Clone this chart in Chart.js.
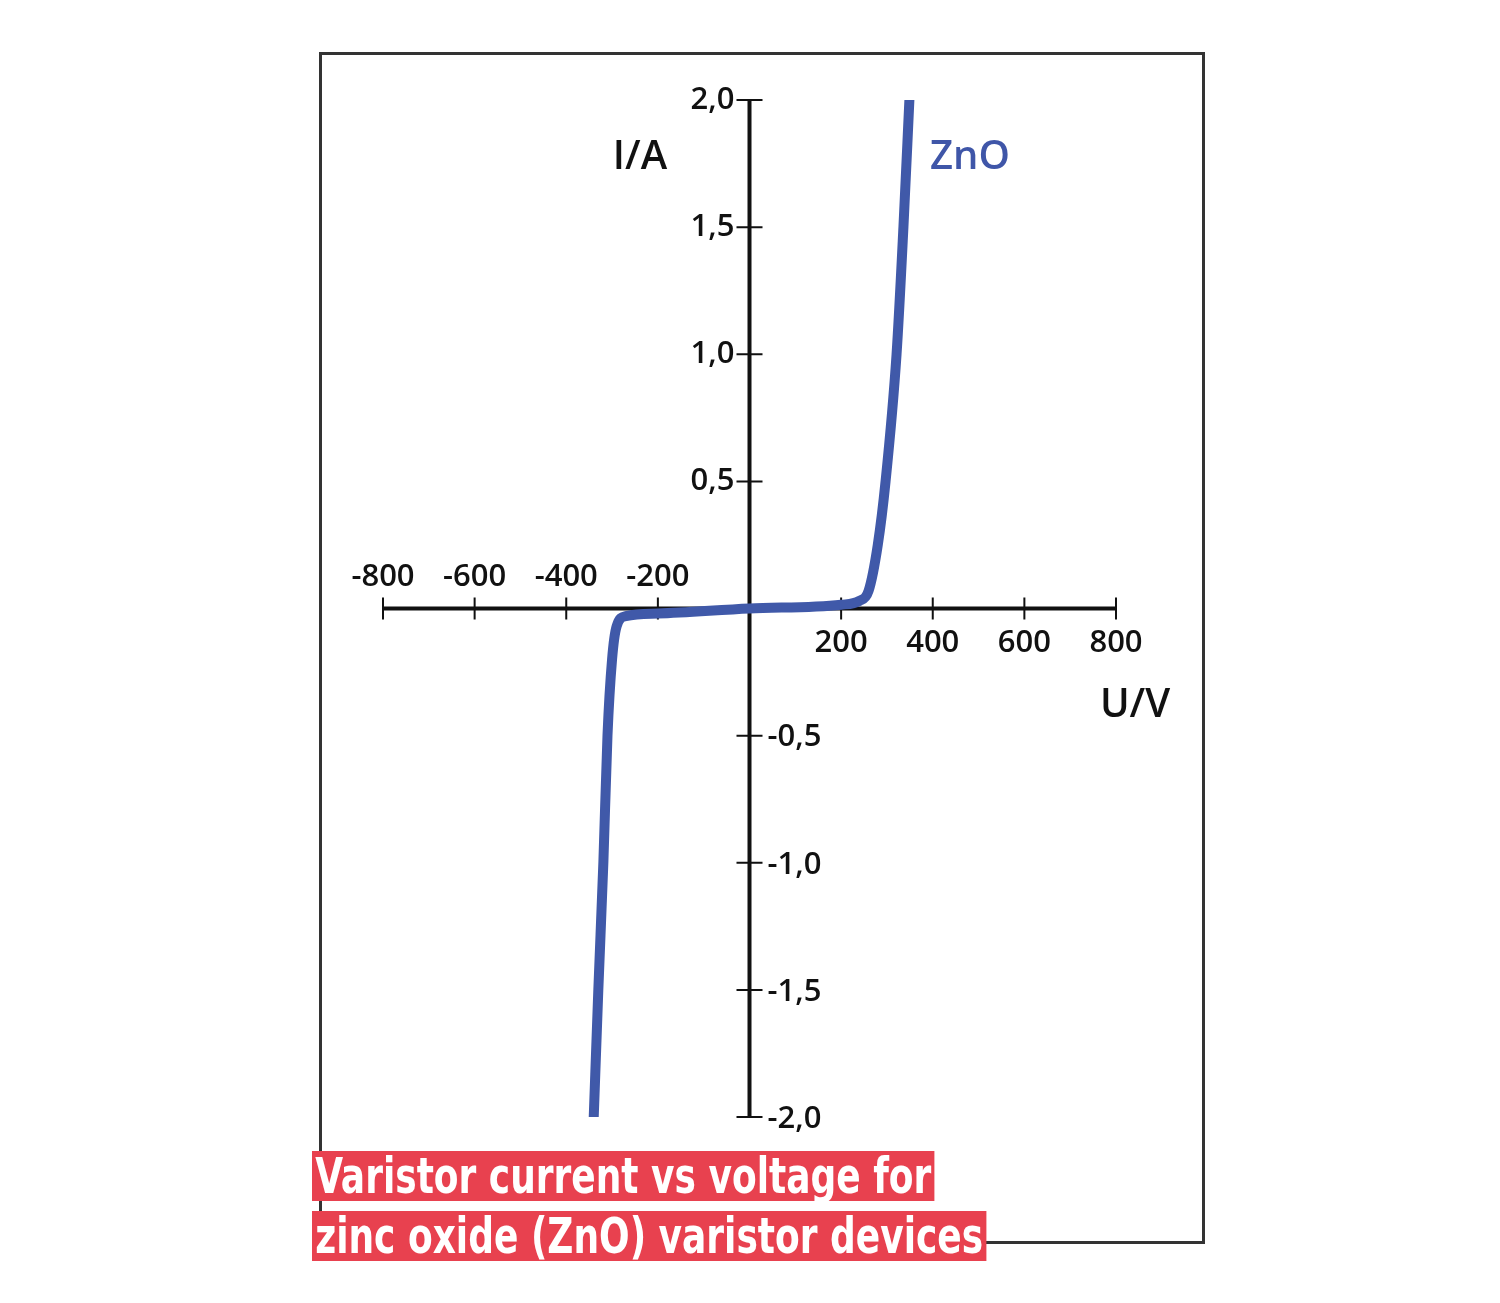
<!DOCTYPE html>
<html>
<head>
<meta charset="utf-8">
<script src="https://cdn.jsdelivr.net/npm/chart.js@4"></script>
<style>
  body { margin: 0; background: #fff; width: 1500px; height: 1303px; position: relative; overflow: hidden; }
  #frame { position: absolute; left: 319px; top: 52px; width: 880px; height: 1186px; border: 3px solid #333; }
  #c { position: absolute; left: 0; top: 0; }
  .cap { position: absolute; left: 312px; background: #e8414f; color: #fff; font-weight: bold;
         font-family: "Liberation Sans Narrow", "DejaVu Sans Condensed", sans-serif; font-size: 50px;
         line-height: 50px; padding: 0 4px; transform: scaleX(0.80); transform-origin: left; }
</style>
</head>
<body>
<div id="frame"></div>
<canvas id="c" width="1500" height="1303"></canvas>
<div class="cap" style="top:1151px">Varistor current vs voltage for</div>
<div class="cap" style="top:1211px">zinc oxide (ZnO) varistor devices</div>
<script>
const voltage = [-340, -330, -319, -310, -300, -290, -270, -200, 0, 200, 240, 260, 280, 297, 321, 336, 349];
const current = [-2.0, -1.5, -1.0, -0.5, -0.2, -0.07, -0.03, -0.02, 0, 0.015, 0.03, 0.07, 0.25, 0.5, 1.0, 1.5, 2.0];
const xTicks = [-800, -600, -400, -200, 200, 400, 600, 800];
const yTicks = [2.0, 1.5, 1.0, 0.5, -0.5, -1.0, -1.5, -2.0];

const fmtY = v => v.toFixed(1).replace('.', ',');

const axesPlugin = {
    id: 'axes',
    beforeDatasetsDraw(chart) {
        const ctx = chart.ctx;
        const xs = chart.scales.x, ys = chart.scales.y;
        const x0 = xs.getPixelForValue(0), y0 = ys.getPixelForValue(0);
        ctx.save();
        ctx.strokeStyle = '#111';
        ctx.fillStyle = '#111';
        ctx.lineWidth = 4;
        ctx.beginPath();
        ctx.moveTo(xs.getPixelForValue(-800), y0); ctx.lineTo(xs.getPixelForValue(800), y0);
        ctx.moveTo(x0, ys.getPixelForValue(2)); ctx.lineTo(x0, ys.getPixelForValue(-2));
        ctx.stroke();
        ctx.beginPath();
        ctx.lineWidth = 2;
        xTicks.forEach(v => {
            const px = xs.getPixelForValue(v);
            ctx.moveTo(px, y0 - 11); ctx.lineTo(px, y0 + 11);
        });
        yTicks.forEach(v => {
            const py = ys.getPixelForValue(v);
            ctx.moveTo(x0 - 13, py); ctx.lineTo(x0 + 13, py);
        });
        ctx.stroke();

        ctx.font = '600 31px "Open Sans", sans-serif';
        ctx.textBaseline = 'middle';
        ctx.textAlign = 'center';
        xTicks.forEach(v => {
            const px = xs.getPixelForValue(v);
            ctx.fillText(String(v), px, v < 0 ? y0 - 31 : y0 + 35);
        });
        yTicks.forEach(v => {
            const py = ys.getPixelForValue(v);
            if (v > 0) { ctx.textAlign = 'right'; ctx.fillText(fmtY(v), x0 - 15, py); }
            else { ctx.textAlign = 'left'; ctx.fillText(fmtY(v), x0 + 18, py + 2); }
        });
        ctx.font = '600 40px "Open Sans", sans-serif';
        ctx.textAlign = 'center';
        ctx.fillText('I/A', 640, 158);
        ctx.fillText('U/V', 1135, 706);
        ctx.fillStyle = '#3f56a8';
        ctx.fillText('ZnO', 970, 158);
        ctx.restore();
    }
};

new Chart(document.getElementById('c'), {
    type: 'scatter',
    data: {
        datasets: [{
            data: voltage.map((u, i) => ({ x: u, y: current[i] })),
            showLine: true,
            borderColor: '#4059a9',
            borderWidth: 10,
            borderCapStyle: 'round',
            cubicInterpolationMode: 'monotone',
            pointRadius: 0
        }]
    },
    options: {
        responsive: false,
        animation: false,
        devicePixelRatio: 1,
        layout: { padding: { left: 383, right: 384, top: 100, bottom: 186 } },
        plugins: { legend: { display: false }, tooltip: { enabled: false } },
        scales: {
            x: { type: 'linear', min: -800, max: 800, display: false },
            y: { type: 'linear', min: -2, max: 2, display: false }
        }
    },
    plugins: [axesPlugin]
});
</script>
</body>
</html>
